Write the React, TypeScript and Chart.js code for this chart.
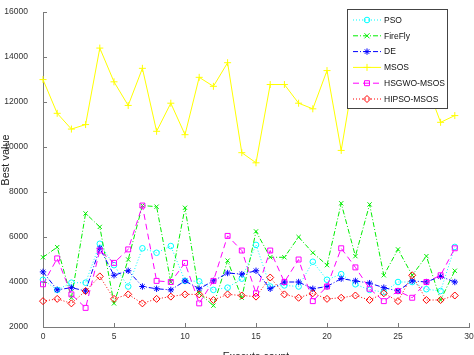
import React, { useEffect, useRef } from 'react';
import { Chart, registerables } from 'chart.js';

Chart.register(...registerables);

const runs = [0, 1, 2, 3, 4, 5, 6, 7, 8, 9, 10, 11, 12, 13, 14, 15, 16, 17, 18, 19, 20, 21, 22, 23, 24, 25, 26, 27, 28, 29];

const psoValues = [4100, 3650, 3970, 3970, 5700, 4750, 3800, 5500, 5300, 5600, 4050, 4030, 3650, 3750, 4150, 5650, 3800, 3850, 3800, 4900, 4100, 4350, 3900, 3650, 3550, 4000, 4000, 3680, 3600, 5560];
const fireflyValues = [5100, 5550, 3300, 7050, 6450, 3050, 5000, 7400, 7350, 4000, 7300, 3500, 2950, 4950, 3300, 6250, 5100, 5100, 6000, 5300, 4750, 7500, 5150, 7450, 4300, 5450, 4300, 5150, 3200, 4500];
const deValues = [4450, 3650, 3750, 3600, 5500, 4300, 4500, 3800, 3700, 3650, 4050, 3700, 4050, 4400, 4350, 4500, 3700, 4000, 4000, 3700, 3800, 4150, 4050, 3950, 3750, 3600, 4050, 4000, 4250, 4000];
const msosValues = [13000, 11500, 10800, 11000, 14400, 12900, 11850, 13500, 10700, 11950, 10550, 13100, 12700, 13750, 9750, 9300, 12780, 12780, 11950, 11700, 13400, 9850, 13600, 12600, 13300, 12500, 13000, 12800, 11100, 11400];
const hsgwoValues = [3900, 5050, 3450, 2850, 5400, 4850, 5450, 7400, 4050, 4000, 4850, 3050, 4050, 6050, 5400, 3500, 5400, 4000, 5000, 3150, 3800, 5500, 4650, 3700, 3150, 3600, 3300, 4000, 4300, 5500];
const hipsoValues = [3150, 3250, 3050, 3600, 4250, 3250, 3450, 3050, 3250, 3350, 3450, 3450, 3200, 3450, 3400, 3350, 4200, 3450, 3300, 3500, 3250, 3300, 3400, 3200, 3500, 3150, 4300, 3200, 3200, 3400];

const seriesNames = ['PSO', 'FireFly', 'DE', 'MSOS', 'HSGWO-MSOS', 'HIPSO-MSOS'];
const yTicks = [2000, 4000, 6000, 8000, 10000, 12000, 14000, 16000];
const xTicks = [0, 5, 10, 15, 20, 25, 30];
const yTitle = 'Best value';
const xTitle = 'Execute count';

const FONT = "'Liberation Sans', Arial, Helvetica, sans-serif";

type Style = { color: string; dash: number[]; marker: string; radius: number };
const styles: Style[] = [
  { color: '#00ffff', dash: [1, 2], marker: 'circle', radius: 2.8 },
  { color: '#00ee00', dash: [5, 2, 1, 2], marker: 'crossRot', radius: 3 },
  { color: '#0000ff', dash: [5, 2, 1, 2], marker: 'star', radius: 3.2 },
  { color: '#ffff00', dash: [], marker: 'cross', radius: 3.5 },
  { color: '#ff00ff', dash: [6, 4], marker: 'rect', radius: 3.5 },
  { color: '#ff0000', dash: [1, 2], marker: 'rectRot', radius: 3.5 },
];

function drawMarker(ctx: CanvasRenderingContext2D, kind: string, x: number, y: number, r: number) {
  ctx.beginPath();
  if (kind === 'circle') {
    ctx.arc(x, y, r, 0, Math.PI * 2);
  } else if (kind === 'crossRot') {
    const d = r * Math.SQRT1_2 * 1.2;
    ctx.moveTo(x - d, y - d); ctx.lineTo(x + d, y + d);
    ctx.moveTo(x - d, y + d); ctx.lineTo(x + d, y - d);
  } else if (kind === 'star') {
    const d = r * Math.SQRT1_2;
    ctx.moveTo(x - r, y); ctx.lineTo(x + r, y);
    ctx.moveTo(x, y - r); ctx.lineTo(x, y + r);
    ctx.moveTo(x - d, y - d); ctx.lineTo(x + d, y + d);
    ctx.moveTo(x - d, y + d); ctx.lineTo(x + d, y - d);
  } else if (kind === 'cross') {
    ctx.moveTo(x - r, y); ctx.lineTo(x + r, y);
    ctx.moveTo(x, y - r); ctx.lineTo(x, y + r);
  } else if (kind === 'rect') {
    const s = r * Math.SQRT1_2;
    ctx.rect(x - s, y - s, 2 * s, 2 * s);
  } else if (kind === 'rectRot') {
    ctx.moveTo(x, y - r); ctx.lineTo(x + r, y); ctx.lineTo(x, y + r); ctx.lineTo(x - r, y); ctx.closePath();
  }
  ctx.stroke();
}

const matlabPlugin = {
  id: 'matlabDecor',
  afterDatasetsDraw(chart: any) {
    const ctx: CanvasRenderingContext2D = chart.ctx;
    const xs = chart.scales.x;
    const ys = chart.scales.y;
    const area = chart.chartArea;
    ctx.save();
    // inward tick marks
    ctx.strokeStyle = '#7a7a7a';
    ctx.lineWidth = 1;
    ctx.setLineDash([]);
    ctx.beginPath();
    yTicks.forEach((v) => {
      const py = Math.round(ys.getPixelForValue(v)) + 0.5;
      ctx.moveTo(area.left, py);
      ctx.lineTo(area.left + 4, py);
    });
    xTicks.forEach((v) => {
      const px = Math.round(xs.getPixelForValue(v)) + 0.5;
      ctx.moveTo(px, area.bottom);
      ctx.lineTo(px, area.bottom - 4);
    });
    ctx.stroke();

    // y axis title
    ctx.save();
    ctx.translate(6, 160);
    ctx.rotate(-Math.PI / 2);
    ctx.font = `11px ${FONT}`;
    ctx.fillStyle = '#222222';
    ctx.textAlign = 'center';
    ctx.textBaseline = 'middle';
    ctx.fillText(yTitle, 0, 0);
    ctx.restore();

    // legend box
    const bx = 347, by = 9, bw = 100, bh = 99;
    ctx.fillStyle = '#ffffff';
    ctx.fillRect(bx, by, bw, bh);
    ctx.strokeStyle = '#444444';
    ctx.strokeRect(bx + 0.5, by + 0.5, bw, bh);
    ctx.font = `8.5px ${FONT}`;
    ctx.textBaseline = 'middle';
    ctx.textAlign = 'left';
    seriesNames.forEach((name, i) => {
      const st = styles[i];
      const yy = 20 + i * 15.8;
      ctx.strokeStyle = st.color;
      ctx.lineWidth = 1;
      ctx.setLineDash(st.dash);
      ctx.beginPath();
      ctx.moveTo(353, yy);
      ctx.lineTo(381, yy);
      ctx.stroke();
      ctx.setLineDash([]);
      drawMarker(ctx, st.marker, 367, yy, st.radius);
      ctx.fillStyle = '#111111';
      ctx.fillText(name, 384, yy + 0.5);
    });
    ctx.restore();
  },
};

export default function App() {
  const canvasRef = useRef<HTMLCanvasElement | null>(null);

  useEffect(() => {
    const canvas = canvasRef.current;
    if (!canvas) return;
    const seriesValues = [psoValues, fireflyValues, deValues, msosValues, hsgwoValues, hipsoValues];
    const datasets = seriesValues.map((vals, i) => {
      const st = styles[i];
      return {
        label: seriesNames[i],
        data: runs.map((r, k) => ({ x: r, y: vals[k] })),
        borderColor: st.color,
        backgroundColor: 'rgba(0,0,0,0)',
        borderWidth: 1,
        borderDash: st.dash,
        pointStyle: st.marker,
        pointRadius: st.radius,
        pointBorderColor: st.color,
        pointBackgroundColor: 'rgba(0,0,0,0)',
        pointBorderWidth: 1,
        tension: 0,
        fill: false,
        clip: false as any,
        order: 5 - i,
      };
    });

    const chart = new Chart(canvas, {
      type: 'line',
      data: { datasets },
      options: {
        animation: false,
        responsive: false,
        maintainAspectRatio: false,
        events: [],
        layout: { padding: { top: 3, right: 5, left: 0, bottom: 0 } },
        plugins: {
          legend: { display: false },
          tooltip: { enabled: false },
        },
        scales: {
          x: {
            type: 'linear',
            min: 0,
            max: 30,
            grid: { display: false },
            border: { display: true, color: '#7a7a7a', width: 1 },
            ticks: {
              stepSize: 5,
              maxRotation: 0,
              padding: -3,
              color: '#333333',
              font: { family: FONT, size: 8.5 },
              callback: (v: any) => String(v),
            },
            title: {
              display: true,
              text: xTitle,
              color: '#222222',
              font: { family: FONT, size: 10.5 },
              padding: { top: 0, bottom: -8 },
            },
            afterFit: (scale: any) => { scale.height = 28; },
          },
          y: {
            type: 'linear',
            min: 2000,
            max: 16000,
            grid: { display: false },
            border: { display: true, color: '#7a7a7a', width: 1 },
            ticks: {
              stepSize: 2000,
              padding: 7,
              color: '#333333',
              font: { family: FONT, size: 8.5 },
              callback: (v: any) => String(v),
            },
            title: { display: false },
            afterFit: (scale: any) => { scale.width = 43; },
          },
        },
      },
      plugins: [matlabPlugin],
    });
    return () => chart.destroy();
  }, []);

  return (
    <div style={{ position: 'fixed', left: 0, top: 0, width: 474, height: 355, background: '#ffffff', overflow: 'hidden' }}>
      <canvas ref={canvasRef} width={474} height={355} style={{ display: 'block', width: 474, height: 355 }} />
    </div>
  );
}
